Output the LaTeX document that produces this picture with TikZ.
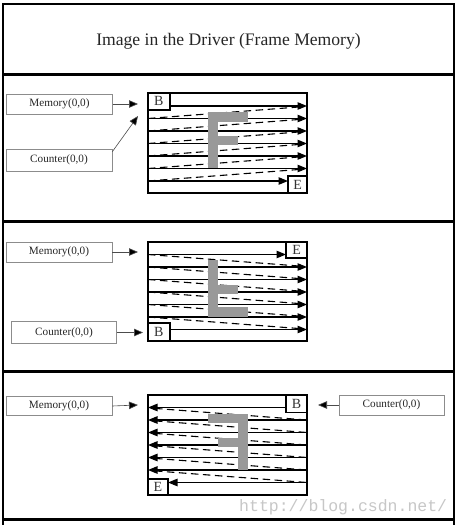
\documentclass[tikz,border=0pt]{standalone}
\usepackage{fontspec}
\setmainfont{Liberation Serif}
\newfontfamily\wmfont{Liberation Mono}
\usetikzlibrary{arrows.meta}
\begin{document}
\begin{tikzpicture}[x=1pt,y=-1pt,
 lbl/.style={draw=black!45, line width=0.7pt, minimum width=106pt, minimum height=20pt, inner sep=0pt, text=black!85, font=\fontsize{11.2}{13}\selectfont},
 framebox/.style={draw, line width=2pt, minimum width=159pt, inner sep=0pt},
 corner/.style={draw, fill=white, line width=1.8pt, inner sep=0pt, text=black!80, font=\fontsize{14}{15}\selectfont},
 scan/.style={line width=1.1pt},
 scantip/.style={line width=1.1pt, -{Triangle[length=9.5pt,width=7.5pt]}},
 ret/.style={line width=1.1pt, dash pattern=on 7.5pt off 4.5pt},
 ptr/.style={line width=0.6pt, draw=black!70, -{Triangle[length=9pt,width=7.5pt,fill=black]}},
 glyph/.style={fill=black!40, draw=none},
 sep/.style={line width=3pt}
]
\useasboundingbox (0,0) rectangle (460,525);
\fill[white] (0,0) rectangle (460,525);
% outer frame and separators
\draw[line width=2.5pt] (3,525) -- (3,4) -- (454,4) -- (454,525);
\draw[sep] (3,74) -- (454,74);
\draw[sep] (3,221) -- (454,221);
\draw[sep] (3,371) -- (454,371);
\draw[sep] (3,519) -- (454,519);
\node[text=black!85, font=\fontsize{17.6}{20}\selectfont] (title) at (228.5,41) {Image in the Driver (Frame Memory)};

% ---------- Panel 1 ----------
\draw[scantip] (170,106) -- (307,106);
\foreach \y in {118.5,131,143.5,156,168.5} \draw[scantip] (148,\y) -- (307,\y);
\draw[scantip] (148,181) -- (288,181);
\foreach \a/\b in {106/118.5,118.5/131,131/143.5,143.5/156,156/168.5,168.5/181}
  \draw[ret] (148,\b) -- (300,\a+0.9);
\fill[glyph] (208,112) rectangle (248,122);
\fill[glyph] (208,112) rectangle (218,168);
\fill[glyph] (208,136) rectangle (238,145);
\node[framebox, minimum height=100pt] (f1) at (227.5,143) {};
\node[corner, minimum width=22pt, minimum height=17pt, anchor=north west] (b1) at (f1.north west) {B};
\node[corner, minimum width=19pt, minimum height=17pt, anchor=south east] (e1) at (f1.south east) {E};
\node[lbl] (m1) at (59.5,104) {Memory(0,0)};
\node[lbl, minimum height=22pt] (c1) at (59,160) {Counter(0,0)};
\coordinate (m1t) at (138,104);
\coordinate (c1t) at (138,116);
\draw[ptr] (m1.east) -- (m1t);
\draw[ptr] ([yshift=-3pt]c1.north east) -- (c1t);

% ---------- Panel 2 ----------
\draw[scantip] (148,254.5) -- (286,254.5);
\foreach \y in {267,279.5,292,304.5,317} \draw[scantip] (148,\y) -- (307,\y);
\draw[scantip] (170,329.5) -- (307,329.5);
\foreach \a/\b in {254.5/267,267/279.5,279.5/292,292/304.5,304.5/317,317/329.5}
  \draw[ret] (148,\a) -- (300,\b-0.9);
\fill[glyph] (208,260) rectangle (218,316.5);
\fill[glyph] (208,284.5) rectangle (238,293.5);
\fill[glyph] (208,307) rectangle (248,316.5);
\node[framebox, minimum height=99pt] (f2) at (227.5,291.5) {};
\node[corner, minimum width=21pt, minimum height=16pt, anchor=north east] (e2) at (f2.north east) {E};
\node[corner, minimum width=22pt, minimum height=18pt, anchor=south west] (b2) at (f2.south west) {B};
\node[lbl] (m2) at (59,252) {Memory(0,0)};
\node[lbl, minimum width=105pt, minimum height=21.5pt] (c2) at (64,332.5) {Counter(0,0)};
\coordinate (m2t) at (138,252);
\coordinate (c2t) at (143,332.5);
\draw[ptr] (m2.east) -- (m2t);
\draw[ptr] (c2.east) -- (c2t);

% ---------- Panel 3 ----------
\draw[scantip] (286,407.5) -- (148,407.5);
\foreach \y in {420,432.5,445,457.5,470} \draw[scantip] (307,\y) -- (148,\y);
\draw[scantip] (307,482.5) -- (168,482.5);
\foreach \a/\b in {407.5/420,420/432.5,432.5/445,445/457.5,457.5/470,470/482.5}
  \draw[ret] (155,\a+0.9) -- (307,\b);
\fill[glyph] (238,414) rectangle (248,470);
\fill[glyph] (208,414) rectangle (248,423);
\fill[glyph] (218,438) rectangle (248,447);
\node[framebox, minimum height=99.5pt] (f3) at (227.5,444.75) {};
\node[corner, minimum width=21pt, minimum height=17.5pt, anchor=north east] (b3) at (f3.north east) {B};
\node[corner, minimum width=20pt, minimum height=15.5pt, anchor=south west] (e3) at (f3.south west) {E};
\node[lbl, minimum height=19pt] (m3) at (59,406) {Memory(0,0)};
\node[lbl, minimum width=105pt] (c3) at (391.5,405) {Counter(0,0)};
\coordinate (m3t) at (138,405);
\coordinate (c3t) at (318,405);
\draw[ptr] (m3.east) -- (m3t);
\draw[ptr] (c3.west) -- (c3t);

\node[anchor=base west, text=black!22, font=\wmfont\fontsize{16.5}{18}\selectfont, inner sep=0pt] (wm) at (239,511.5) {http://blog.csdn.net/};
\end{tikzpicture}
\end{document}
